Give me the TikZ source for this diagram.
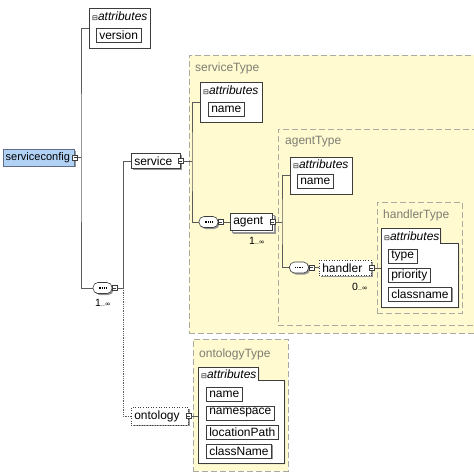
\documentclass[tikz,border=0pt]{standalone}
\usepackage{fontspec}
\setmainfont{Liberation Sans}
\newfontfamily\symfont{DejaVu Sans}
\usepackage{tikz}
\usetikzlibrary{shadows, positioning, calc}

\definecolor{typefill}{RGB}{255,250,208}
\definecolor{typeline}{RGB}{170,170,160}
\definecolor{typetext}{RGB}{125,125,115}
\definecolor{rootfill}{RGB}{178,210,245}
\definecolor{rootline}{RGB}{95,110,135}
\definecolor{boxline}{RGB}{60,60,60}
\definecolor{shade}{RGB}{150,150,150}
\definecolor{wire}{RGB}{90,90,90}

\newcommand{\attrhead}{{\symfont\fontsize{7}{8}\selectfont ⊟}\textit{attributes}}
\newcommand{\occur}[1]{#1{\fontsize{7}{8}\selectfont ..{\symfont ∞}}}

\begin{document}
\begin{tikzpicture}[x=1pt, y=-1pt, font=\fontsize{12}{14}\selectfont,
    typebox/.style={draw=typeline, fill=typefill, dash pattern=on 6pt off 3pt, line width=0.8pt, anchor=north west, inner sep=0pt},
    typelabel/.style={text=typetext, anchor=west, inner sep=0pt},
    attrbox/.style={draw=boxline, fill=white, line width=0.6pt, drop shadow={shadow xshift=1pt, shadow yshift=-1pt, fill=shade, opacity=1}},
    head/.style={anchor=west, inner sep=0pt},
    field/.style={draw=boxline, fill=white, line width=0.6pt, anchor=west, inner xsep=3pt, inner ysep=1pt, minimum height=14pt, drop shadow={shadow xshift=1pt, shadow yshift=-1pt, fill=shade, opacity=1}},
    elem/.style={draw=boxline, fill=white, line width=0.6pt, anchor=west, inner xsep=3pt, minimum height=15pt, text width=#1, align=left},
    single/.style={drop shadow={shadow xshift=1.5pt, shadow yshift=-1.5pt, fill=shade, opacity=1}},
    multi/.style={copy shadow={shadow xshift=3pt, shadow yshift=-3pt, draw=shade, fill=white},
                  copy shadow={shadow xshift=1.5pt, shadow yshift=-1.5pt, draw=shade, fill=white}},
    optel/.style={dotted},
    seq/.style={draw=boxline, fill=white, line width=0.6pt, rounded corners=5pt, minimum width=19pt, minimum height=11pt, inner sep=0pt, single},
    con/.style={draw=boxline, fill=white, line width=0.5pt, minimum size=5pt, inner sep=0pt,
                path picture={\draw[line width=0.4pt] ([xshift=1pt]path picture bounding box.west) -- ([xshift=-1pt]path picture bounding box.east);}},
    occ/.style={font=\fontsize{10.5}{12}\selectfont, inner sep=0pt},
    link/.style={draw=wire, line width=0.8pt}]

    \useasboundingbox (0,0) rectangle (474,474);

    % type containers
    \node[typebox, minimum width=290, minimum height=278] (stype) at (189,55) {};
    \node[typelabel] (stype-l) at (195,68) {serviceType};
    \node[typebox, minimum width=200, minimum height=196] (atype) at (278,129) {};
    \node[typelabel] (atype-l) at (285,142) {agentType};
    \node[typebox, minimum width=85, minimum height=111] (htype) at (377,202) {};
    \node[typelabel] (htype-l) at (383,215) {handlerType};
    \node[typebox, minimum width=95, minimum height=132] (otype) at (193,339) {};
    \node[typelabel] (otype-l) at (199,354) {ontologyType};

    % root element
    \node[elem=67pt, fill=rootfill, draw=rootline, anchor=east, single, inner xsep=2pt, font=\fontsize{11}{14}\selectfont] (config) at (75,157.5) {serviceconfig};
    \node[con] (config-c) at (config.east) {};

    \node[attrbox, minimum width=61, minimum height=40, anchor=north west] (attr0) at (89,8) {};
    \node[head] (attr0-h) at (92,16) {\attrhead};
    \node[field] (version) at (96,35) {version};

    \node[seq] (seq0) at (102.5,288) {};
    \node[con] (seq0-c) at ([xshift=2.5pt]seq0.east) {};
    \node[occ] (occ0) at (103,303) {\occur{1}};

    \coordinate (bus0) at (81,157.5);
    \draw[link] (config-c) -- (bus0);
    \draw[link] (attr0.west) -| (bus0) |- (seq0.west);

    % service
    \node[elem=43pt, single] (service) at (131,161) {service};
    \node[con] (service-c) at (service.east) {};
    \coordinate (bus1) at (123,288);
    \draw[link] (seq0-c) -- (bus1);
    \draw[link] (bus1) |- (service.west);

    \node[attrbox, minimum width=62, minimum height=40, anchor=north west] (stattr) at (200,82) {};
    \node[head] (stattr-h) at (203,90) {\attrhead};
    \node[field] (st-name) at (208,109) {name};

    \node[seq] (seq1) at (208.5,222) {};
    \node[con] (seq1-c) at ([xshift=2.5pt]seq1.east) {};
    \node[elem=36pt, multi] (agent) at (230,222) {agent};
    \node[con] (agent-c) at (agent.east) {};
    \node[occ] (occ1) at (257,241) {\occur{1}};

    \coordinate (bus2) at (192,161);
    \draw[link] (service-c) -- (bus2);
    \draw[link] (stattr.west) -| (bus2) |- (seq1.west);
    \draw[link] (seq1-c) -- (agent);

    % agent
    \node[attrbox, minimum width=62, minimum height=37, anchor=north west] (atattr) at (290,157) {};
    \node[head] (atattr-h) at (293,164) {\attrhead};
    \node[field] (at-name) at (297,181) {name};

    \node[seq] (seq2) at (299,267.5) {};
    \node[con] (seq2-c) at ([xshift=2.5pt]seq2.east) {};
    \node[elem=46pt, optel, single] (handler) at (319,268) {handler};
    \node[con] (handler-c) at (handler.east) {};
    \node[occ] (occ2) at (360,287) {\occur{0}};

    \coordinate (bus3) at (282,222);
    \draw[link] (agent-c) -- (bus3);
    \draw[link] (atattr.west) -| (bus3) |- (seq2.west);
    \draw[link] (seq2-c) -- (handler);

    % handler attributes
    \draw[attrbox] (381,228) -- (440,228) -- (440,243) -- (458,243) -- (458,307) -- (381,307) -- cycle;
    \node[head] (htattr-h) at (384,236) {\attrhead};
    \foreach \f/\y in {type/256, priority/275, classname/294}
        \node[field] (ht-\f) at (388,\y) {\f};
    \coordinate (htattr) at (381,268);
    \draw[link] (handler-c) -- (htattr);

    % ontology
    \node[elem=51pt, optel, single] (ontology) at (131,416) {ontology};
    \node[con] (ontology-c) at (ontology.east) {};
    \draw[link, densely dotted] (bus1) |- (ontology.west);
    \draw[attrbox] (198,367) -- (258,367) -- (258,380) -- (284,380) -- (284,463) -- (198,463) -- cycle;
    \node[head] (otattr-h) at (201,374) {\attrhead};
    \foreach \f/\y in {name/394, namespace/413, locationPath/432, className/451}
        \node[field] (ot-\f) at (206,\y) {\f};
    \coordinate (otattr) at (198,416);
    \draw[link] (ontology-c) -- (otattr);

    \foreach \s in {seq0,seq1,seq2}
        \draw[line width=1.2pt, dash pattern=on 1pt off 0.8pt] ([xshift=-4pt]\s.center) -- ([xshift=4pt]\s.center);
\end{tikzpicture}
\end{document}
